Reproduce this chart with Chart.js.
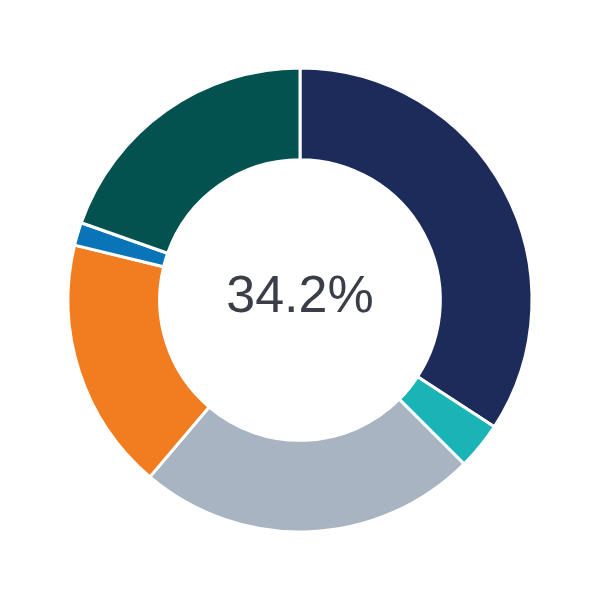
<!DOCTYPE html>
<html lang="en">
<head>
    <meta charset="UTF-8">
    <title>Doughnut</title>
    <script src="https://cdn.jsdelivr.net/npm/chart.js"></script>
    <style>
        html, body { margin: 0; padding: 0; background: #fff; }
        #wrap { width: 600px; height: 600px; }
    </style>
</head>
<body>
    <div id="wrap"><canvas id="myChart" width="600" height="600"></canvas></div>
    <script>
        const labels = ["Segment 1", "Segment 2", "Segment 3", "Segment 4", "Segment 5", "Segment 6"];
        const values = [34.2, 3.3, 23.7, 17.6, 1.6, 19.6];
        const colors = ["#1c2b5a", "#1bb4b6", "#a9b4c2", "#f27d21", "#0a74b9", "#03524f"];
        const centerText = "34.2%";

        const centerLabel = {
            id: 'centerLabel',
            afterDraw(chart) {
                const meta = chart.getDatasetMeta(0);
                if (!meta.data.length) return;
                const { x, y } = meta.data[0];
                const ctx = chart.ctx;
                ctx.save();
                ctx.font = '52px "Liberation Sans", Arial, sans-serif';
                ctx.fillStyle = '#3a3e48';
                ctx.textAlign = 'center';
                ctx.textBaseline = 'middle';
                ctx.fillText(centerText, x, y - 2);
                ctx.restore();
            }
        };

        new Chart(document.getElementById('myChart').getContext('2d'), {
            type: 'doughnut',
            data: {
                labels: labels,
                datasets: [{
                    data: values,
                    backgroundColor: colors,
                    borderColor: '#ffffff',
                    borderWidth: 3
                }]
            },
            options: {
                responsive: false,
                animation: false,
                radius: 232,
                cutout: '60.5%',
                layout: { padding: 0 },
                plugins: {
                    legend: { display: false },
                    tooltip: { enabled: false }
                }
            },
            plugins: [centerLabel]
        });
    </script>
</body>
</html>
